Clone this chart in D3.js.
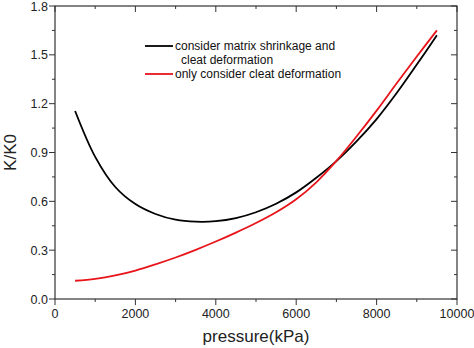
<!DOCTYPE html>
<html><head><meta charset="utf-8">
<script src="https://cdn.jsdelivr.net/npm/d3@7"></script>
<style>
html,body{margin:0;padding:0;background:#fff;}
svg{display:block;font-family:"Liberation Sans",Arial,sans-serif;}
</style></head>
<body>
<svg id="chart" width="474" height="348"></svg>
<script>
const pressure = [500,1000,1500,2000,2500,3000,3500,4000,4500,5000,5500,6000,6500,7000,7500,8000,8500,9000,9500];
const matrixAndCleat = [1.155,0.873,0.688,0.583,0.522,0.487,0.475,0.478,0.497,0.533,0.585,0.655,0.745,0.847,0.968,1.105,1.265,1.44,1.62];
const cleatOnly = [0.112,0.124,0.145,0.175,0.213,0.255,0.302,0.353,0.408,0.467,0.533,0.613,0.717,0.848,0.998,1.157,1.325,1.49,1.65];
const seriesNames = ["consider matrix shrinkage and", "cleat deformation", "only consider cleat deformation"];
const xTicks = [0,2000,4000,6000,8000,10000];
const yTicks = [0.0,0.3,0.6,0.9,1.2,1.5,1.8];
const xLabel = "pressure(kPa)";
const yLabel = "K/K0";

const svg = d3.select("#chart");
const L = 55, R = 457, T = 6, B = 299;
const x = d3.scaleLinear().domain([0,10000]).range([L,R]);
const y = d3.scaleLinear().domain([0,1.8]).range([B,T]);

const xMinor = d3.range(0,10001,1000);
const yMinor = d3.range(0,1.81,0.15);

// frame
svg.append("rect").attr("x",L).attr("y",T).attr("width",R-L).attr("height",B-T)
  .attr("fill","none").attr("stroke","#333").attr("stroke-width",1.2);

const tk = svg.append("g").attr("stroke","#333").attr("stroke-width",1);
xMinor.forEach((v,i)=>{
  const len = (i%2===0)?6:3;
  tk.append("line").attr("x1",x(v)).attr("x2",x(v)).attr("y1",B).attr("y2",B+len);
  tk.append("line").attr("x1",x(v)).attr("x2",x(v)).attr("y1",T).attr("y2",T+len);
});
yMinor.forEach((v,i)=>{
  const len = (i%2===0)?6:3;
  tk.append("line").attr("y1",y(v)).attr("y2",y(v)).attr("x1",L).attr("x2",L-len);
  tk.append("line").attr("y1",y(v)).attr("y2",y(v)).attr("x1",R).attr("x2",R-len);
});

// tick labels
svg.append("g").selectAll("text").data(xTicks).join("text")
  .attr("x",d=>x(d)).attr("y",318).attr("text-anchor","middle")
  .attr("font-size",12.5).attr("fill","#222").text(d=>d);
svg.append("g").selectAll("text").data(yTicks).join("text")
  .attr("x",48).attr("y",d=>y(d)+4.5).attr("text-anchor","end")
  .attr("font-size",12.5).attr("fill","#222").text(d=>d.toFixed(1));

// axis titles
svg.append("text").attr("x",(L+R)/2).attr("y",342).attr("text-anchor","middle")
  .attr("font-size",17).attr("fill","#222").text(xLabel);
svg.append("text").attr("transform",`translate(16,${(T+B)/2}) rotate(-90)`)
  .attr("text-anchor","middle").attr("font-size",17).attr("fill","#222").text(yLabel);

// lines
const line = d3.line().x(d=>x(d[0])).y(d=>y(d[1])).curve(d3.curveCatmullRom.alpha(0.5));
svg.append("path").datum(pressure.map((p,i)=>[p,matrixAndCleat[i]]))
  .attr("d",line).attr("fill","none").attr("stroke","#000").attr("stroke-width",1.8);
svg.append("path").datum(pressure.map((p,i)=>[p,cleatOnly[i]]))
  .attr("d",line).attr("fill","none").attr("stroke","#e8141a").attr("stroke-width",1.8);

// legend
const lg = svg.append("g").attr("font-size",12).attr("fill","#111");
lg.append("line").attr("x1",145).attr("x2",173).attr("y1",46).attr("y2",46).attr("stroke","#000").attr("stroke-width",1.8);
lg.append("text").attr("x",175).attr("y",50).text(seriesNames[0]);
lg.append("text").attr("x",181).attr("y",64).text(seriesNames[1]);
lg.append("line").attr("x1",145).attr("x2",173).attr("y1",74).attr("y2",74).attr("stroke","#e8141a").attr("stroke-width",1.8);
lg.append("text").attr("x",175).attr("y",78).text(seriesNames[2]);
</script>
</body></html>
